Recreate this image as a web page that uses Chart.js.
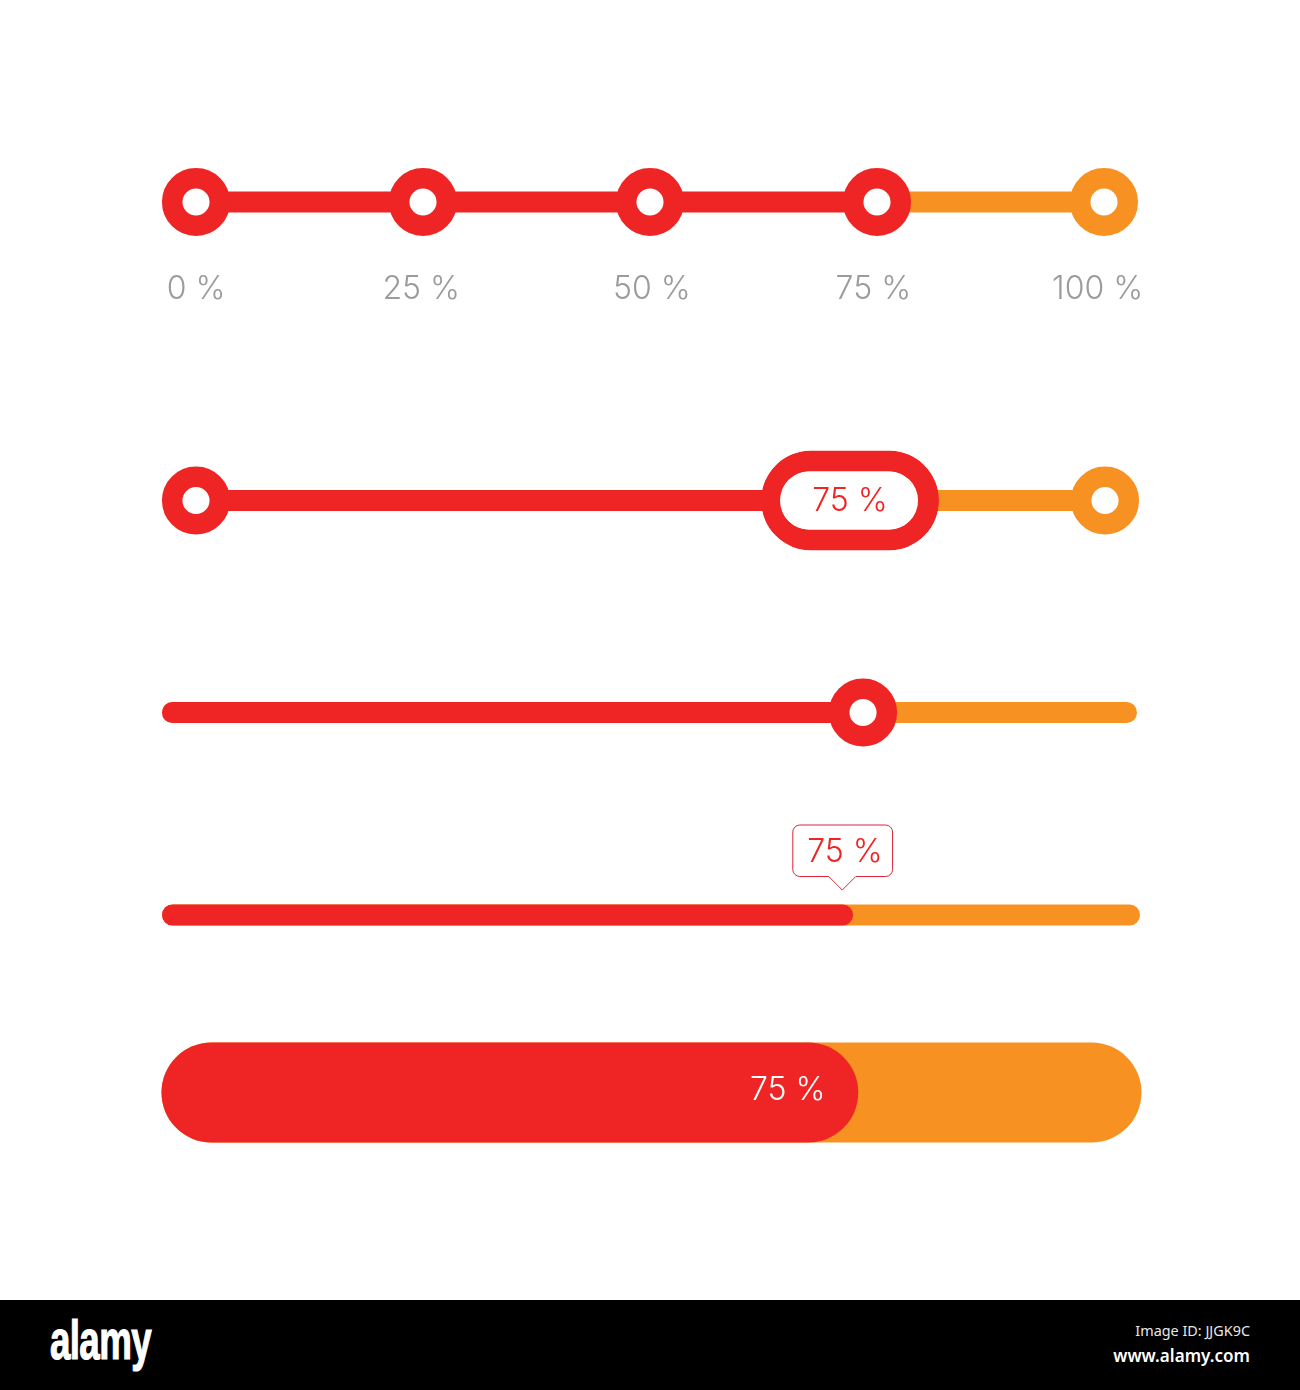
<!DOCTYPE html>
<html>
<head>
<meta charset="utf-8">
<title>Progress bars</title>
<script src="https://cdn.jsdelivr.net/npm/chart.js@4/dist/chart.umd.min.js"></script>
<style>
html,body{margin:0;padding:0;background:#fff;}
#page{position:relative;width:1300px;height:1390px;overflow:hidden;background:#fff;}
canvas{position:absolute;left:0;display:block;}
#footer{position:absolute;left:0;top:1300px;width:1300px;height:90px;background:#000;color:#fff;}
#logo{position:absolute;left:50px;top:6px;font:bold 56px/1.2 "Liberation Sans",sans-serif;transform-origin:0 50%;white-space:nowrap;letter-spacing:-1px;-webkit-text-stroke:1.2px #fff;}
#imgid{position:absolute;right:50px;top:21px;font:400 14.4px/20px "Noto Sans",sans-serif;color:#e8e8e8;white-space:nowrap;}
#site{position:absolute;right:50px;top:44px;font:600 17.1px/24px "Noto Sans",sans-serif;white-space:nowrap;}
</style>
</head>
<body>
<div id="page">
<canvas id="row1" width="1300" height="164" style="top:160px"></canvas>
<canvas id="row2" width="1300" height="121" style="top:440px"></canvas>
<canvas id="row3" width="1300" height="85" style="top:670px"></canvas>
<canvas id="row4" width="1300" height="200" style="top:815px"></canvas>
<canvas id="row5" width="1300" height="121" style="top:1032px"></canvas>
<div id="footer">
<div id="logo">alamy</div>
<div id="imgid">Image ID: JJGK9C</div>
<div id="site">www.alamy.com</div>
</div>
</div>
<script>
// ---- data (percent along each track) ----
const stepLabels = ['0 %', '25 %', '50 %', '75 %', '100 %'];
const stepLabelAt = [0, 24.8, 50.2, 74.6, 99.3];
const doneSteps = [0, 25, 50, 75];
const restSteps = [75, 100];

const pillLine = [0, 71.95];
const pillRest = [71.95, 100];
const pillRange = [62.16, 81.74];
const pillLabelAt = 71.95;

const knobValue = 71.9;
const knobTrack = [0, 100];

const calloutBar = [0, 70.66];
const calloutTrack = [0, 100];
const calloutBox = [64.5, 74.7];
const calloutTip = 69.56;
const calloutLabelAt = 69.84;

const thickBar = [0, 71.1];
const thickTrack = [0, 100];
const thickLabelAt = 63.9;

const valueLabel = '75 %';
const rowLabels = ['track'];

// ---- styles ----
const RED = '#EE2524', ORANGE = '#F79122', GREY = '#9B9B9B';
const TEXT_FONT = '300 32px Inter, sans-serif';

function pts(values){ return values.map(v => ({x: v, y: rowLabels[0]})); }

function ring(color, order, values, showPoint){
  return {type:'scatter', indexAxis:'x', data:pts(values), showLine:true, order,
    borderColor:color, backgroundColor:'#fff', borderWidth:21, clip:false,
    pointBackgroundColor:'#fff', pointBorderColor:color, pointBorderWidth:20.5,
    pointRadius:(c)=> showPoint(values[c.dataIndex]) ? 23.8 : 0, pointHoverRadius:0, tension:0};
}
function knob(color, order, value){
  return {type:'scatter', indexAxis:'x', data:pts([value]), showLine:false, order, clip:false,
    pointBackgroundColor:'#fff', pointBorderColor:color, pointBorderWidth:20.5, pointRadius:23.8};
}
function bar(range, color, order, thickness, radius){
  return {type:'bar', data:[range], backgroundColor:color, order, grouped:false, barThickness:thickness,
    borderRadius:radius, borderSkipped:false, inflateAmount:0, clip:false};
}

const textPlugin = {
  id:'valueText',
  afterDatasetsDraw(chart, args, o){
    if(!o || !o.text) return;
    const ctx = chart.ctx, x = chart.scales.x.getPixelForValue(o.at);
    const mid = chart.scales.y.getPixelForValue(0);
    ctx.save();
    if(o.callout){
      const left = chart.scales.x.getPixelForValue(o.callout.box[0]);
      const right = chart.scales.x.getPixelForValue(o.callout.box[1]);
      const tip = chart.scales.x.getPixelForValue(o.callout.tip);
      const top = mid-90, bottom = mid-38.5, r = 7;
      ctx.beginPath();
      ctx.moveTo(left+r, top);
      ctx.lineTo(right-r, top); ctx.arcTo(right, top, right, top+r, r);
      ctx.lineTo(right, bottom-r); ctx.arcTo(right, bottom, right-r, bottom, r);
      ctx.lineTo(tip+13.5, bottom); ctx.lineTo(tip, mid-25); ctx.lineTo(tip-13.5, bottom);
      ctx.lineTo(left+r, bottom); ctx.arcTo(left, bottom, left, bottom-r, r);
      ctx.lineTo(left, top+r); ctx.arcTo(left, top, left+r, top, r);
      ctx.closePath();
      ctx.fillStyle = '#fff'; ctx.fill();
      ctx.strokeStyle = '#D9263A'; ctx.lineWidth = 1; ctx.stroke();
    }
    ctx.font = TEXT_FONT; ctx.fillStyle = o.color;
    ctx.textAlign = 'center'; ctx.textBaseline = 'middle';
    ctx.fillText(o.text, x, mid + o.dy);
    ctx.restore();
  }
};

function makeChart(id, datasets, zeroPx, fullPx, text, xExtra){
  const unit = (fullPx - zeroPx) / 100;
  const x = Object.assign({type:'linear', min:-zeroPx/unit, max:(1300-zeroPx)/unit, display:false, grid:{display:false}}, xExtra || {});
  return new Chart(document.getElementById(id), {
    type:'bar',
    data:{labels:rowLabels, datasets},
    options:{
      responsive:false, animation:false, devicePixelRatio:1, indexAxis:'y',
      layout:{padding:0, autoPadding:false},
      events:[],
      plugins:{legend:{display:false}, tooltip:{enabled:false}, title:{display:false}, valueText:text||{}},
      scales:{x, y:{type:'category', labels:rowLabels, offset:true, display:false, grid:{display:false}}}
    },
    plugins:[textPlugin]
  });
}

// Row 1: stepper with labelled stops
makeChart('row1', [ring(RED, 1, doneSteps, ()=>true), ring(ORANGE, 2, restSteps, v=>v===100)], 196, 1104, null, {
  display:true,
  position:'bottom',
  border:{display:false},
  grid:{display:false, drawTicks:false},
  afterBuildTicks(s){ s.ticks = stepLabelAt.map(value => ({value})); },
  afterFit(s){ s.height = 80; },
  ticks:{autoSkip:false, maxRotation:0, minRotation:0, padding:26, color:GREY, font:{family:'Inter', size:32, weight:300},
    callback:(v,i)=>stepLabels[i]}
});

// Row 2: stepper ends with a pill
const endPoint = v => v === 0 || v === 100;
const pill = bar(pillRange, '#fff', 0, 100, 50);
pill.borderColor = RED; pill.borderWidth = {left:19, right:21, top:21, bottom:21};
makeChart('row2', [pill, ring(RED, 1, pillLine, endPoint), ring(ORANGE, 2, pillRest, endPoint)], 196, 1105,
  {text:valueLabel, at:pillLabelAt, color:RED, dy:1});

// Row 3: slider with a knob
makeChart('row3', [knob(RED, 0, knobValue), bar([0, knobValue], RED, 1, 21, 10.5), bar(knobTrack, ORANGE, 2, 21, 10.5)], 162, 1137);

// Row 4: thin bar with a callout
makeChart('row4', [bar(calloutBar, RED, 1, 21, 10.5), bar(calloutTrack, ORANGE, 2, 21, 10.5)], 162, 1140,
  {text:valueLabel, at:calloutLabelAt, color:RED, dy:-63, callout:{box:calloutBox, tip:calloutTip}});

// Row 5: thick bar with an inside label
makeChart('row5', [bar(thickBar, RED, 1, 100, 50), bar(thickTrack, ORANGE, 2, 100, 50)], 161.5, 1141.5,
  {text:valueLabel, at:thickLabelAt, color:'#fff', dy:-2});

// footer logo width
const logo = document.getElementById('logo');
logo.style.transform = 'scaleX(' + (101 / logo.getBoundingClientRect().width) + ')';
</script>
</body>
</html>
